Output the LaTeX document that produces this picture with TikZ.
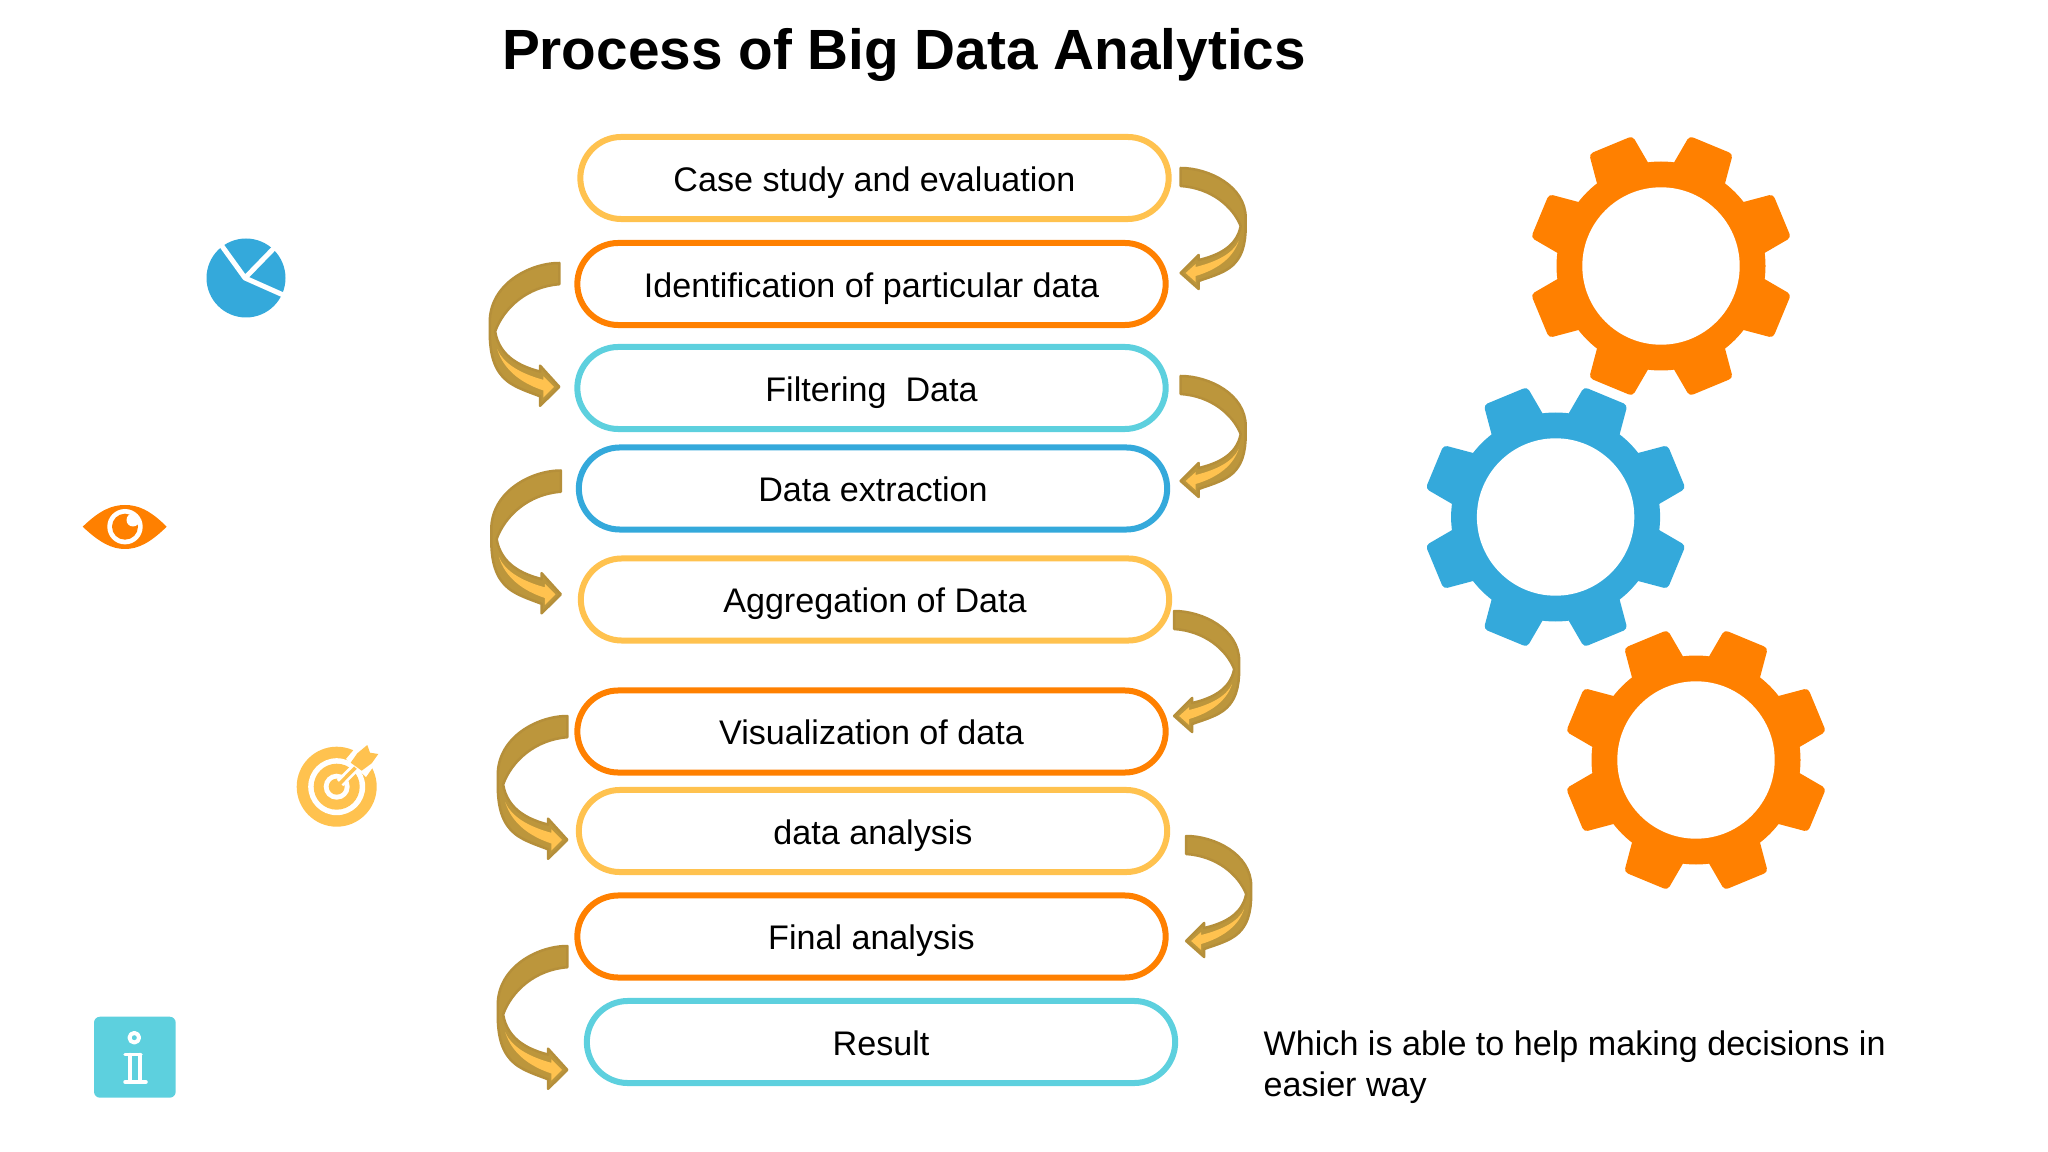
\documentclass[tikz,border=0pt]{standalone}
\usepackage{fontspec}
\setmainfont{Liberation Sans}
\usetikzlibrary{shapes.misc,calc}
\definecolor{pillyellow}{HTML}{FFC24F}
\definecolor{pillorange}{HTML}{FF8000}
\definecolor{pillteal}{HTML}{5DD0DE}
\definecolor{pillblue}{HTML}{34A9DB}
\definecolor{bronze}{HTML}{B58F3A}
\definecolor{bronzelight}{HTML}{BC963C}
\tikzset{
	stage/.style={shape=rounded rectangle, draw=#1, line width=.06cm, fill=white, inner sep=0pt, minimum width=5.88cm, minimum height=.82cm, text height=.2666cm, text depth=0pt, font=\fontsize{9.7pt}{11pt}\selectfont},
	bendarrow/.pic={
		\draw[bronze, fill=bronzelight, line width=.025cm, line join=round]
		(0,0) .. controls (28,0) and (65,18) .. (65,50) .. controls (65,62) and (66,80) .. (56,93)
		.. controls (48,104) and (32,108) .. (18,113) -- (18,121) -- (0,105) -- (18,87) -- (18,92)
		.. controls (35,88) and (56,80) .. (60,58) .. controls (52,38) and (30,20) .. (0,18) -- cycle;
		\fill[pillyellow] (5,105) -- (15,96) -- (15,99) .. controls (35,94) and (52,86) .. (58,73)
		.. controls (52,91) and (35,102) .. (15,108) -- (15,114) -- cycle;
	},
	gear/.pic={
		\fill[#1] (0,0) circle (104.5);
		\foreach \a in {22.5,67.5,...,360}
		\fill[#1, rotate=\a, rounded corners=.04cm] (-29,90)--(-23.5,131)--(23.5,131)--(29,90)--cycle;
		\fill[white] (0,0) circle (78.7);
	}
}
\begin{document}
\begin{tikzpicture}[x=.01cm, y=-.01cm, line join=round, line cap=round]
	\useasboundingbox (0,0) rectangle (2048,1152);
	\node[font=\fontsize{16.13pt}{19pt}\selectfont\bfseries] (title) at (904,55) {Process of Big Data Analytics};
	
	\node[stage=pillyellow] (casestudy) at (874.5,178) {Case study and evaluation};
	\node[stage=pillorange] (identification) at (871.5,284) {Identification of particular data};
	\node[stage=pillteal] (filtering) at (871.5,388) {Filtering\ \ Data};
	\node[stage=pillblue] (extraction) at (873,488.5) {Data extraction};
	\node[stage=pillyellow] (aggregation) at (875,599.5) {Aggregation of Data};
	\node[stage=pillorange] (visualization) at (871.5,731.5) {Visualization of data};
	\node[stage=pillyellow] (analysis) at (873,831) {data analysis};
	\node[stage=pillorange] (finalanalysis) at (871.5,936.5) {Final analysis};
	\node[stage=pillteal] (result) at (881,1042) {Result};
	\node[anchor=west, align=left, inner sep=0pt, font=\fontsize{9.7pt}{11.66pt}\selectfont] (note) at (1263,1067) {Which is able to help making decisions in\\easier way};
	
	% arrows on the right of the stages
	\pic at ($(casestudy.east)+(9,-10)$) {bendarrow};
	\pic at ($(filtering.east)+(12,-12)$) {bendarrow};
	\pic at ($(aggregation.east)+(2,11.5)$) {bendarrow};
	\pic at ($(analysis.east)+(16,5)$) {bendarrow};
	% arrows on the left
	\pic[xscale=-1.07, yscale=1.18] at ($(identification.west)+(-15,-21)$) {bendarrow};
	\pic[xscale=-1.07, yscale=1.18] at ($(extraction.west)+(-15,-18)$) {bendarrow};
	\pic[xscale=-1.07, yscale=1.18] at ($(visualization.west)+(-7,-15.5)$) {bendarrow};
	\pic[xscale=-1.07, yscale=1.18] at ($(finalanalysis.west)+(-7,9.5)$) {bendarrow};
	
	\pic at (1661,266) {gear=pillorange};
	\pic at (1555.6,517) {gear=pillblue};
	\pic at (1696,760) {gear=pillorange};
	
	% pie
	\fill[pillblue] (246,278) circle (39.5);
	\draw[white, line width=.05cm] (219,242)--(245,278)--(279,243) (245,278)--(290,298);
	% eye
	\fill[pillorange] (82.7,526.7) .. controls (100,510) and (112,505) .. (125,505) .. controls (138,505) and (150,510) .. (166.7,526.7)
	.. controls (150,543) and (138,549) .. (125,549) .. controls (112,549) and (100,543) .. (82.7,526.7) -- cycle;
	\fill[white] (125,526.7) circle (17.7);
	\fill[pillorange] (125,526.7) circle (13);
	\fill[white] (133,520) circle (6.5);
	% target
	\fill[pillyellow] (336.7,786.7) circle (40);
	\fill[white] (336.7,786.7) circle (28.5);
	\fill[pillyellow] (336.7,786.7) circle (23);
	\fill[white] (336.7,786.7) circle (13);
	\fill[pillyellow] (336.7,786.7) circle (8);
	\draw[white, line width=.09cm, line cap=butt] (340,783)--(358,765);
	\draw[pillyellow, line width=.035cm] (336.7,786.7)--(358,765);
	\fill[white] (346,759)--(357,746)--(385,750)--(366,777)--cycle;
	\fill[pillyellow] (350.7,762.7)--(357.3,753.3)--(367.3,745)--(370,752.7)--(378.3,754)--(371.7,763.3)--(361.7,770.7)--cycle;
	% info
	\fill[pillteal, rounded corners=.06cm] (94,1016.7) rectangle (175.7,1097.7);
	\draw[white, line width=.04cm] (134.3,1037.7) circle (4.8);
	\draw[white, line width=.035cm] (125,1054.5)--(141,1054.5) (130,1054.5)--(130,1082) (140,1054.5)--(140,1082) (125,1082)--(146,1082);
\end{tikzpicture}
\end{document}
